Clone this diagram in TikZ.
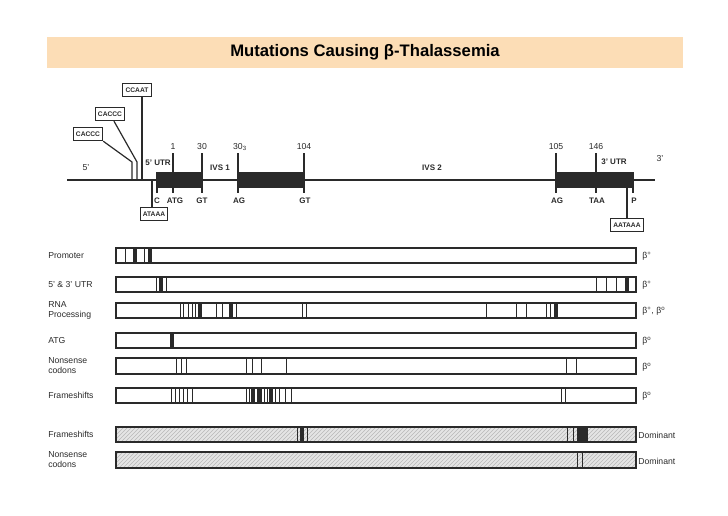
\documentclass[tikz,border=0pt]{standalone}
\usepackage{fontspec}
\setmainfont{Liberation Sans}
\usetikzlibrary{patterns}
\definecolor{titlebg}{HTML}{FCDDB6}
\definecolor{ink}{HTML}{2A2A2A}
\begin{document}
\begin{tikzpicture}[x=0.75pt,y=-0.75pt,
  lbl/.style={font=\fontsize{6.5}{7.5}\selectfont, text=ink, inner sep=0pt},
  blbl/.style={font=\bfseries\fontsize{6}{7}\selectfont, text=ink, inner sep=0pt},
  tag/.style={draw=ink, line width=0.8pt, font=\bfseries\fontsize{5}{6}\selectfont, inner sep=2pt, minimum height=10pt, text=ink},
  ln/.style={draw=ink, line width=0.9pt},
  barbox/.style={draw=ink, line width=0.8pt, fill=white},
  mut/.style={draw=ink, line width=0.7pt},
  tmut/.style={draw=ink, line width=2.4pt},
  rlab/.style={font=\fontsize{6.5}{7.5}\selectfont, text=ink, anchor=west, inner sep=0pt}]
\useasboundingbox (0,0) rectangle (728,515);
% title
\fill[titlebg] (47,37) rectangle (683,68);
\node[font=\bfseries\fontsize{12.5}{14}\selectfont] (title) at (365,52) {Mutations Causing β-Thalassemia};
% gene line
\coordinate (g5) at (67,180); \coordinate (g3) at (655,180);
\draw[ln] (g5) -- (g3);
\fill[ink] (157,172) rectangle (202,188);
\fill[ink] (238,172) rectangle (304,188);
\fill[ink] (556,172) rectangle (632,188);
% ticks
\foreach \x in {173,202,238,304,556,596} \draw[ln] (\x,153) -- (\x,193);
\draw[ln] (157,172) -- (157,193);
\draw[ln] (633,172) -- (633,193);
% numbers
\node[lbl] (n1) at (173,147) {1};
\node[lbl] (n30) at (202,147) {30};
\node[lbl] (n303) at (240,147) {30\textsubscript{3}};
\node[lbl] (n104) at (304,147) {104};
\node[lbl] (n105) at (556,147) {105};
\node[lbl] (n146) at (596,147) {146};
\node[lbl] (p5) at (86,168) {5'};
\node[lbl] (p3) at (660,159) {3'};
\node[blbl,anchor=east] (utr5) at (171,163) {5' UTR};
\node[blbl] (utr3) at (614,162) {3' UTR};
\node[blbl] (ivs1) at (220,168) {IVS 1};
\node[blbl] (ivs2) at (432,168) {IVS 2};
\node[blbl] (cc1) at (157,201) {C};
\node[blbl] (atg) at (175,201) {ATG};
\node[blbl] (gt1) at (202,201) {GT};
\node[blbl] (ag1) at (239,201) {AG};
\node[blbl] (gt2) at (305,201) {GT};
\node[blbl] (ag2) at (557,201) {AG};
\node[blbl] (taa) at (597,201) {TAA};
\node[blbl] (pp) at (634,201) {P};
% promoter boxes
\node[tag] (c1) at (88,134) {CACCC};
\node[tag] (c2) at (110,114) {CACCC};
\node[tag] (cc) at (137,90) {CCAAT};
\node[tag] (ta) at (154,214) {ATAAA};
\node[tag] (aa) at (627,225) {AATAAA};
\coordinate (ccb) at ([xshift=3.75pt]cc.south);
\draw[ln] (c1.south east) -- (132,162) -- (132,180);
\draw[ln] ([xshift=3pt]c2.south) -- (137,162) -- (137,180);
\draw[ln] (ccb) -- (ccb |- g5);
\draw[ln] (152,180) -- (152,208);
\draw[ln] (aa.north) -- (627,188);
% bars
\def\bl{116}\def\br{636}
\node[lbl,anchor=west] (Lpr) at (48,256) {Promoter};
\node[lbl,anchor=west] (Lut) at (48,284.5) {5' \& 3' UTR};
\node[lbl,anchor=west,align=left] (Lrn) at (48,310.5) {RNA\\Processing};
\node[lbl,anchor=west] (Lat) at (48,340.5) {ATG};
\node[lbl,anchor=west,align=left] (Lns) at (48,366) {Nonsense\\codons};
\node[lbl,anchor=west] (Lfs) at (48,395.5) {Frameshifts};
\node[lbl,anchor=west] (Ldf) at (48,434.5) {Frameshifts};
\node[lbl,anchor=west,align=left] (Ldn) at (48,460) {Nonsense\\codons};
\foreach \ya/\yb in {248/263,277/292,303/318,333/348,358/374,388/403}
  \draw[barbox] (\bl,\ya) rectangle (\br,\yb);
\foreach \ya/\yb in {427/442,452/468}{
  \fill[gray!20] (\bl,\ya) rectangle (\br,\yb);
  \fill[pattern=north east lines, pattern color=gray!55] (\bl,\ya) rectangle (\br,\yb);
  \draw[ink, line width=0.8pt] (\bl,\ya) rectangle (\br,\yb);}
% mutations
\foreach \x in {125,144} \draw[mut] (\x,248) -- (\x,263);
\foreach \x in {135,150} \draw[tmut] (\x,248) -- (\x,263);
\foreach \x in {156,166,596,606,616} \draw[mut] (\x,277) -- (\x,292);
\foreach \x in {161,627} \draw[tmut] (\x,277) -- (\x,292);
\foreach \x in {180,183,188,192,195,216,222,236,302,306,486,516,526,546,550} \draw[mut] (\x,303) -- (\x,318);
\foreach \x in {200,231,556} \draw[tmut] (\x,303) -- (\x,318);
\draw[tmut] (172,333) -- (172,348);
\foreach \x in {176,181,186,246,252,261,286,566,576} \draw[mut] (\x,358) -- (\x,374);
\foreach \x in {171,175,179,183,187,192,246,249,257,264,267,275,279,285,291,561,565} \draw[mut] (\x,388) -- (\x,403);
\foreach \x in {253,260,271} \draw[tmut] (\x,388) -- (\x,403);
\foreach \x in {297,307,567,573} \draw[mut] (\x,427) -- (\x,442);
\draw[tmut] (302,427) -- (302,442);
\fill[ink] (577,427) rectangle (588,442);
\foreach \x in {577,582} \draw[mut] (\x,452) -- (\x,468);
% right labels
\node[rlab] (r1) at (642,256) {β\textsuperscript{+}};
\node[rlab] (r2) at (642,285) {β\textsuperscript{+}};
\node[rlab] (r3) at (642,311) {β\textsuperscript{+}, β\textsuperscript{o}};
\node[rlab] (r4) at (642,341) {β\textsuperscript{o}};
\node[rlab] (r5) at (642,367) {β\textsuperscript{o}};
\node[rlab] (r6) at (642,396) {β\textsuperscript{o}};
\node[rlab] (r7) at (638,435) {Dominant};
\node[rlab] (r8) at (638,461) {Dominant};
\end{tikzpicture}
\end{document}
